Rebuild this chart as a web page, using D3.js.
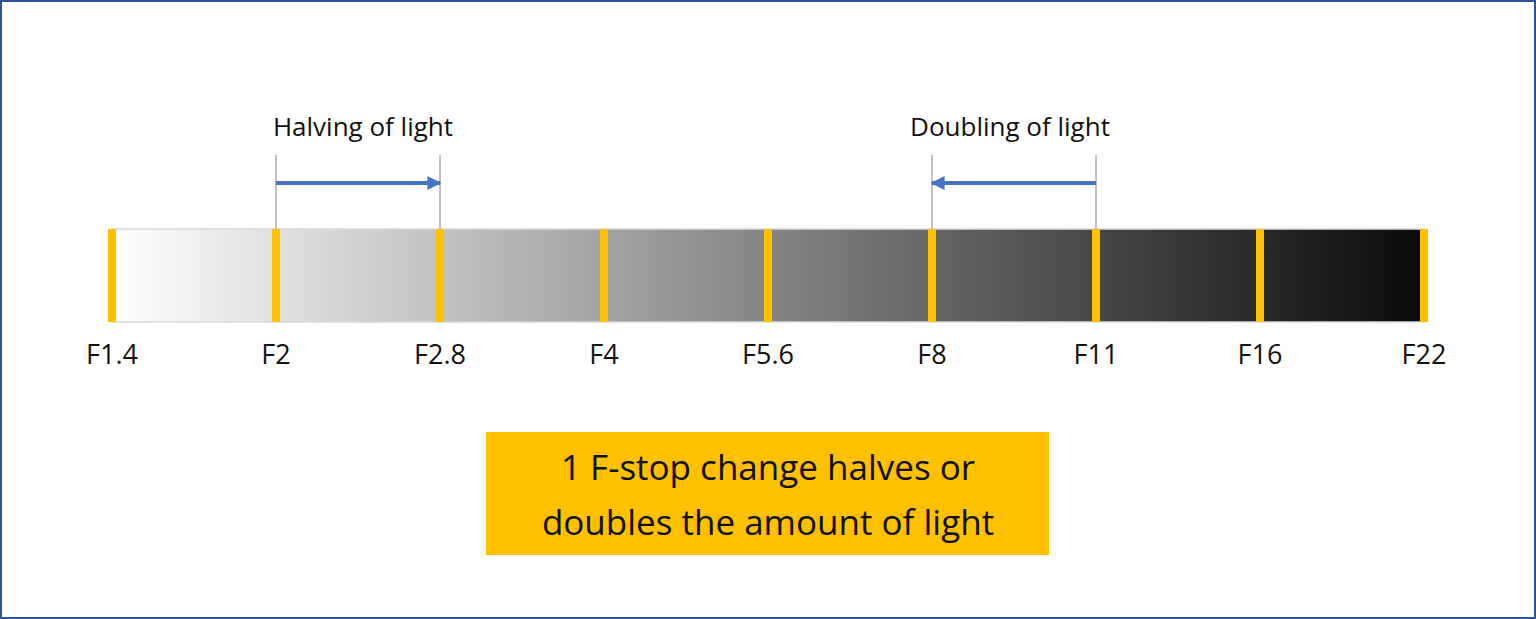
<!DOCTYPE html>
<html>
<head>
<meta charset="utf-8">
<script src="https://d3js.org/d3.v7.min.js"></script>
<style>body{margin:0;background:#fff;} text{font-family:"Open Sans",Lato,sans-serif;fill:#111;}</style>
</head>
<body>
<div id="chart"></div>
<script>
// f-stops along the bar
let stops = ["F1.4","F2","F2.8","F4","F5.6","F8","F11","F16","F22"];
// arrows: from stop index to stop index, with label
let arrowFrom = [1, 6];
let arrowTo = [2, 5];
let arrowLabels = ["Halving of light", "Doubling of light"];
let noteLines = ["1 F-stop change halves or", "doubles the amount of light"];

let W = 1536, H = 619;
let svg = d3.select("#chart").append("svg").attr("width", W).attr("height", H);

svg.append("rect").attr("x", 1).attr("y", 1).attr("width", W - 2).attr("height", H - 2)
   .attr("fill", "#fff").attr("stroke", "#2F5597").attr("stroke-width", 2);

let x = d3.scalePoint().domain(stops).range([112, 1424]);
let barTop = 229, barBot = 322;

let grad = svg.append("defs").append("linearGradient").attr("id", "g");
grad.append("stop").attr("offset", "0%").attr("stop-color", "#ffffff");
grad.append("stop").attr("offset", "100%").attr("stop-color", "#0a0a0a");

svg.append("rect").attr("x", x(stops[0])).attr("y", barTop)
   .attr("width", x(stops[8]) - x(stops[0])).attr("height", barBot - barTop)
   .attr("fill", "url(#g)").attr("stroke", "#d9d9d9").attr("stroke-width", 1.5);

svg.selectAll(".tick").data(stops).enter().append("rect")
   .attr("x", d => x(d) - 4).attr("y", barTop).attr("width", 8).attr("height", barBot - barTop)
   .attr("fill", "#FFC000");

svg.selectAll(".lab").data(stops).enter().append("text")
   .attr("x", d => x(d)).attr("y", 364).attr("text-anchor", "middle")
   .attr("font-size", 27).text(d => d);

svg.append("defs").append("marker").attr("id", "ah").attr("viewBox", "0 0 10 10")
   .attr("refX", 9).attr("refY", 5).attr("markerWidth", 4).attr("markerHeight", 3.5)
   .attr("markerUnits", "strokeWidth").attr("orient", "auto")
   .append("path").attr("d", "M0,0L10,5L0,10Z").attr("fill", "#4472C4");

arrowFrom.forEach((f, i) => {
  let a = x(stops[f]), b = x(stops[arrowTo[i]]);
  [a, b].forEach(v => svg.append("line").attr("x1", v).attr("x2", v).attr("y1", 155).attr("y2", barTop)
     .attr("stroke", "#808080").attr("stroke-width", 1));
  svg.append("line").attr("x1", a).attr("x2", b).attr("y1", 183).attr("y2", 183)
     .attr("stroke", "#4472C4").attr("stroke-width", 4).attr("marker-end", "url(#ah)");
  svg.append("text").attr("x", (a + b) / 2 + (i ? -4 : 5)).attr("y", 136).attr("text-anchor", "middle")
     .attr("font-size", 26).text(arrowLabels[i]);
});

svg.append("rect").attr("x", 486).attr("y", 432).attr("width", 563).attr("height", 123).attr("fill", "#FFC000");
noteLines.forEach((t, i) => svg.append("text").attr("x", 768).attr("y", 480 + i * 55)
   .attr("text-anchor", "middle").attr("font-size", 35).text(t));
</script>
</body>
</html>
